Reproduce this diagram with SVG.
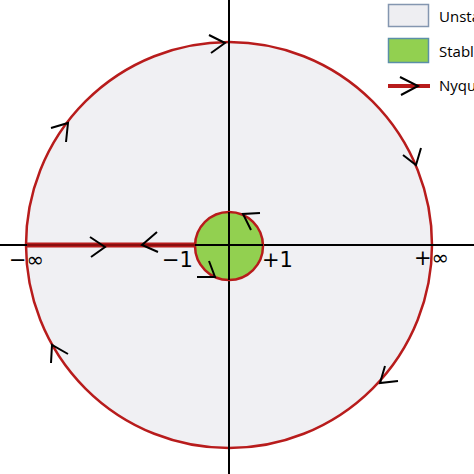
<svg xmlns="http://www.w3.org/2000/svg" width="474" height="474" viewBox="0 0 474 474">
<style>
.ax{stroke:#000;stroke-width:2;fill:none}
.arr{stroke:#000;stroke-width:2;fill:none;stroke-linecap:butt;stroke-linejoin:miter}
.lbl{font-family:"DejaVu Sans",sans-serif;font-size:21px;fill:#000}
.leg{font-family:"Open Sans","Liberation Sans",sans-serif;font-size:15px;fill:#000}
</style>
<rect width="474" height="474" fill="#fff"/>
<g id="unstable-region">
<circle cx="229" cy="245" r="203" fill="#f0f0f3" stroke="#b81c1c" stroke-width="2.5"/>
</g>
<g id="axes">
<line class="ax" x1="0" y1="245" x2="474" y2="245"/>
<line class="ax" x1="229" y1="0" x2="229" y2="474"/>
</g>
<g id="stable-region">
<circle cx="229" cy="246" r="34" fill="#92d050" stroke="#b81c1c" stroke-width="2.5"/>
<line class="ax" x1="195" y1="245" x2="263" y2="245"/>
<line class="ax" x1="229" y1="212" x2="229" y2="280"/>
</g>
<g id="connectors">
<line x1="27" y1="245" x2="195" y2="245" stroke="#b81c1c" stroke-width="5"/>
<line x1="27" y1="245" x2="195" y2="245" stroke="#5a0000" stroke-width="1"/>
<polyline class="arr" points="209,35 225,43 211,53"/>
<polyline class="arr" points="403,155 416,165 421,148"/>
<polyline class="arr" points="385,366 380,383 398,381"/>
<polyline class="arr" points="51,363 52,345 68,354"/>
<polyline class="arr" points="51,128 68,123 66,142"/>
<polyline class="arr" points="90,237 105,247 91,257"/>
<polyline class="arr" points="157,232 142,245 158,252"/>
<polyline class="arr" points="260,213 243,214 251,230"/>
<polyline class="arr" points="197,277 215,277 209,261"/>
</g>
<g id="labels">
<text class="lbl" x="9" y="267">−∞</text>
<text class="lbl" x="162" y="267">−1</text>
<text class="lbl" x="262" y="267">+1</text>
<text class="lbl" x="414" y="265">+∞</text>
</g>
<g id="legend">
<rect x="388.5" y="4.5" width="40" height="22" fill="#eeeef2" stroke="#8496b0" stroke-width="1.5"/>
<rect x="388.5" y="38.5" width="40" height="24" fill="#92d050" stroke="#5b8fa8" stroke-width="1.5"/>
<line x1="388" y1="86" x2="430" y2="86" stroke="#b81c1c" stroke-width="4"/>
<polyline class="arr" points="400,77 418,86 401,95"/>
<text class="leg" x="439" y="22">Unstable</text>
<text class="leg" x="439" y="57">Stable</text>
<text class="leg" x="439" y="91">Nyquist</text>
</g>
</svg>
